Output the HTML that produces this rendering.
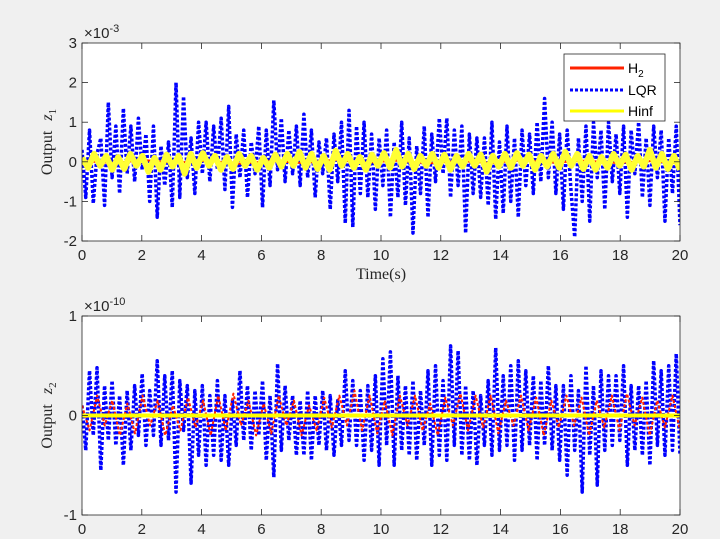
<!DOCTYPE html>
<html><head><meta charset="utf-8"><style>
html,body{margin:0;padding:0;background:#f0f0f0;}
svg{display:block;font-family:"Liberation Sans",sans-serif;}
</style></head><body>
<svg id="fig" width="720" height="539">
<rect x="0" y="0" width="720" height="539" fill="#f0f0f0"/>
</svg>
<script>
// ----- data -----
const tickX = [0,2,4,6,8,10,12,14,16,18,20];
const tickY1 = [-2,-1,0,1,2,3];
const tickY2 = [-1,0,1];
const lqr1 = [0.3,-0.9,0.8,-1.05,0.2,0.6,-1.1,1.5,-0.4,0.9,
-0.8,1.35,-0.3,0.9,-0.5,1.1,-0.2,0.7,-1.0,0.9,
-1.4,0.4,-0.6,0.5,-1.15,2.0,-0.9,1.65,-0.4,0.6,
-0.8,1.0,-0.3,1.0,-0.5,0.9,-0.2,1.1,-0.7,1.4,
-1.15,0.7,-0.4,0.8,-0.9,0.5,-0.3,0.9,-1.15,0.8,
-0.6,1.55,-0.2,1.1,-0.5,0.8,-0.3,0.9,-0.6,1.2,
-0.4,0.8,-0.9,0.5,-0.3,0.6,-1.2,0.7,-0.5,1.0,
-1.55,1.3,-1.65,0.9,-0.8,1.0,-0.9,0.7,-1.2,0.6,
-0.6,0.8,-1.4,0.5,-0.9,1.0,-1.1,0.6,-1.8,0.4,
-0.8,0.9,-1.4,0.7,-0.5,1.1,-0.3,1.1,-0.9,0.8,
-0.6,0.9,-1.8,0.7,-0.8,0.6,-0.9,0.6,-1.1,1.0,
-1.45,0.5,-1.3,0.9,-1.0,0.6,-1.4,0.8,-0.6,0.7,
-0.8,1.0,-0.5,1.6,-0.4,1.0,-0.8,0.7,-1.2,0.8,
-0.7,-1.9,0.6,-1.0,0.9,-1.5,1.0,-0.4,0.8,-1.2,
1.0,-0.5,0.7,-0.8,0.9,-1.4,0.8,-0.3,1.0,-0.9,
0.6,-1.1,0.9,-0.4,0.8,-1.5,0.6,-0.8,0.9,-1.6];
const h21 = [0.02,-0.03,0.04,-0.02,0.03,-0.05,0.02,-0.03,0.05,-0.02,0.03,-0.04,0.02,-0.03,0.04,-0.02,0.03,-0.03,0.02,-0.04];
const hinf1 = [0.1,-0.15,0.2,-0.1,0.15,-0.2,0.12,-0.18,0.2,-0.1,0.15,-0.25,0.1,-0.2,0.18,-0.12,0.15,-0.3,0.2,-0.15,
0.22,-0.1,0.15,-0.2,0.12,-0.18,0.2,-0.1,0.15,-0.2,0.1,-0.15,0.18,-0.12,0.2,-0.1,0.25,-0.15,0.2,-0.18,
0.15,-0.2,0.28,-0.1,0.2,-0.15,0.12,-0.2,0.18,-0.1,0.22,-0.15,0.3,-0.12,0.2,-0.18,0.15,-0.1,0.2,-0.15,
0.18,-0.2,0.15,-0.12,0.2,-0.1,0.18,-0.25,0.15,-0.12,0.2,-0.15,0.22,-0.1,0.18,-0.2,0.15,-0.12,0.2,-0.15,
0.25,-0.1,0.2,-0.18,0.15,-0.2,0.12,-0.15,0.2,-0.1,0.18,-0.2,0.15,-0.12,0.3,-0.15,0.2,-0.18,0.15,-0.2];
const lqr2 = [0.1,-0.35,0.45,-0.2,0.48,-0.55,0.3,-0.25,0.35,-0.3,
0.2,-0.5,0.25,-0.35,0.3,-0.2,0.42,-0.3,0.25,-0.2,
0.55,-0.3,0.4,-0.25,0.45,-0.77,0.35,-0.15,0.3,-0.68,
0.25,-0.4,0.3,-0.5,0.2,-0.4,0.35,-0.45,0.2,-0.5,
0.15,-0.3,0.45,-0.25,0.3,-0.35,0.25,-0.2,0.35,-0.45,
0.2,-0.62,0.52,-0.35,0.3,-0.25,0.2,-0.4,0.15,-0.4,
0.25,-0.45,0.2,-0.3,0.25,-0.35,0.2,-0.4,0.15,-0.3,
0.45,-0.25,0.35,-0.3,0.25,-0.45,0.3,-0.35,0.4,-0.5,
0.57,-0.3,0.64,-0.5,0.4,-0.35,0.3,-0.4,0.35,-0.45,
0.25,-0.3,0.45,-0.5,0.5,-0.4,0.35,-0.45,0.7,-0.3,
0.65,-0.4,0.3,-0.45,0.25,-0.5,0.2,-0.3,0.35,-0.4,
0.68,-0.35,0.4,-0.3,0.5,-0.45,0.55,-0.35,0.45,-0.3,
0.4,-0.45,0.35,-0.3,0.5,-0.35,0.3,-0.45,0.3,-0.6,
0.4,-0.35,0.25,-0.77,0.5,-0.4,0.3,-0.7,0.45,-0.35,
0.4,-0.3,0.4,-0.25,0.5,-0.5,0.3,-0.35,0.3,-0.4,
0.35,-0.5,0.55,-0.3,0.45,-0.4,0.5,-0.35,0.62,-0.4];
const h22 = [0.1,-0.15,0.2,-0.1,0.15,-0.2,0.12,-0.18,0.2,-0.1,0.15,-0.2,0.1,-0.15,0.18,-0.12,0.15,-0.2,0.2,-0.15,
0.22,-0.1,0.15,-0.2,0.12,-0.18,0.2,-0.1,0.15,-0.2,0.1,-0.15,0.18,-0.12,0.2,-0.1,0.25,-0.15,0.2,-0.18,
0.15,-0.2,0.2,-0.1,0.2,-0.15,0.12,-0.2,0.18,-0.1,0.22,-0.15,0.2,-0.12,0.2,-0.18,0.15,-0.1,0.2,-0.15,
0.18,-0.2,0.15,-0.12,0.2,-0.1,0.18,-0.2,0.15,-0.12,0.2,-0.15,0.22,-0.1,0.18,-0.2,0.15,-0.12,0.2,-0.15];
const hinf2 = [0,0];
// ----- drawing -----
const NS='http://www.w3.org/2000/svg';
const svg=document.getElementById('fig');
function mk(tag,attrs,parent){const e=document.createElementNS(NS,tag);for(const k in attrs)e.setAttribute(k,attrs[k]);(parent||svg).appendChild(e);return e;}
const L=82,R=680;
function xs(t){return L+(t/20)*(R-L);}
function axes(top,bot,ymin,ymax,yt,series,name,exp,ylabelSub,showXlabel){
  const ys=v=>bot-(v-ymin)/(ymax-ymin)*(bot-top);
  const g=mk('g',{});
  
  
  const bg=mk('rect',{x:L,y:top,width:R-L,height:bot-top,fill:'#fff'},g);
  
  
  const clipId='c'+name;
  const cp=mk('clipPath',{id:clipId},g);mk('rect',{x:L,y:top,width:R-L,height:bot-top},cp);
  const sg=mk('g',{'clip-path':'url(#'+clipId+')'},g);
  series.forEach(s=>{
    const n=s.data.length;
    let d='';
    s.data.forEach((v,i)=>{d+=(i?'L':'M')+xs(i*20/(n-1)).toFixed(2)+','+ys(v).toFixed(2);});
    const p=mk('path',{d:d,fill:'none',stroke:s.color,'stroke-width':s.w,'stroke-dasharray':s.dash||'none','stroke-linejoin':'round'},sg);
    
    
  });
  mk('rect',{x:L,y:top,width:R-L,height:bot-top,fill:'none',stroke:'#262626','stroke-width':0.8},g);
  tickX.forEach(t=>{
    const x=xs(t);
    mk('line',{x1:x,y1:bot,x2:x,y2:bot-6,stroke:'#262626','stroke-width':0.8},g);
    mk('line',{x1:x,y1:top,x2:x,y2:top+6,stroke:'#262626','stroke-width':0.8},g);
    const tx=mk('text',{x:x,y:bot+19,'text-anchor':'middle','font-size':15,fill:'#262626'},g);
    tx.textContent=t;
    
    
  });
  yt.forEach(v=>{
    const y=ys(v);
    mk('line',{x1:L,y1:y,x2:L+6,y2:y,stroke:'#262626','stroke-width':0.8},g);
    mk('line',{x1:R,y1:y,x2:R-6,y2:y,stroke:'#262626','stroke-width':0.8},g);
    const tx=mk('text',{x:L-5,y:y+5,'text-anchor':'end','font-size':15,fill:'#262626'},g);
    tx.textContent=v;
    
    
  });
  const ex=mk('text',{x:L+2,y:top-5,'font-size':15,fill:'#262626'},g);
  ex.innerHTML='×10<tspan dy="-6" font-size="11">'+exp+'</tspan>';
  
  
  const cy=(top+bot)/2;
  const yl=mk('text',{x:0,y:0,transform:'translate(52,'+cy+') rotate(-90)','text-anchor':'middle','font-size':16,fill:'#262626','font-family':'Liberation Serif, serif'},g);
  yl.innerHTML='Output  <tspan font-style="italic" dx="6">z</tspan><tspan font-size="11" dy="4">'+ylabelSub+'</tspan>';
  
  
  if(showXlabel){
    const xl=mk('text',{x:(L+R)/2,y:bot+38,'text-anchor':'middle','font-size':16,fill:'#262626','font-family':'Liberation Serif, serif'},g);
    xl.textContent='Time(s)';
    
    
  }
  return g;
}
axes(43,241,-2,3,tickY1,[
  {data:lqr1,color:'#0000ff',w:3.5,dash:'3,2',name:'lqr-line-z1'},
  {data:h21,color:'#ff2200',w:2,name:'h2-line-z1'},
  {data:hinf1,color:'#ffff33',w:6,name:'hinf-line-z1'}
],'subplot-z1','-3','1',true);
axes(316,515,-1,1,tickY2,[
  {data:lqr2,color:'#0000ff',w:3.5,dash:'3,2',name:'lqr-line-z2'},
  {data:h22,color:'#ff2200',w:2,dash:'3,2',name:'h2-line-z2'},
  {data:hinf2,color:'#ffff00',w:4,name:'hinf-line-z2'}
],'subplot-z2','-10','2',false);
// legend
const lg=mk('g',{});


mk('rect',{x:564,y:54,width:101,height:67,fill:'#fff',stroke:'#262626','stroke-width':0.8},lg);
const items=[{n:'H',sub:'2',c:'#ff2200',dash:'none',y:68},{n:'LQR',c:'#0000ff',dash:'3,2',y:90},{n:'Hinf',c:'#ffff00',dash:'none',y:111}];
items.forEach(it=>{
  const e=mk('g',{},lg);
  
  
  mk('line',{x1:570,y1:it.y,x2:624,y2:it.y,stroke:it.c,'stroke-width':3,'stroke-dasharray':it.dash},e);
  const t=mk('text',{x:628,y:it.y+5,'font-size':14,fill:'#000'},e);
  t.innerHTML=it.n+(it.sub?'<tspan font-size="10" dy="4">'+it.sub+'</tspan>':'');
});
</script>
</body></html>
